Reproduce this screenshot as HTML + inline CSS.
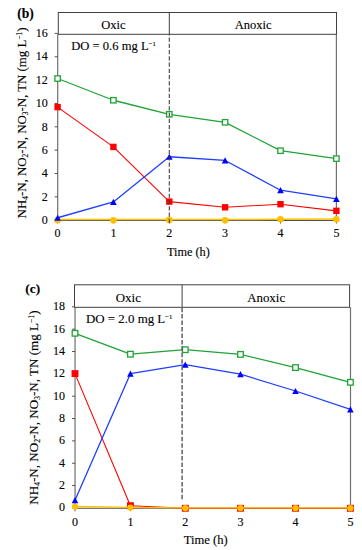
<!DOCTYPE html>
<html><head><meta charset="utf-8"><style>
html,body{margin:0;padding:0;background:#fff;width:362px;height:550px;overflow:hidden}
svg{display:block}
text{font-family:"Liberation Serif", serif;fill:#000;stroke:#000;stroke-width:0.12px}
</style></head><body>
<svg width="362" height="550" viewBox="0 0 362 550">
<path d="M57.7,34.3 V220.5 M336.4,34.3 V220.5" fill="none" stroke="#707070" stroke-width="1.2"/>
<path d="M57.7,220.5 H336.4" fill="none" stroke="#505050" stroke-width="1.1"/>
<rect x="58.3" y="12.5" width="278.2" height="21.8" fill="none" stroke="#404040" stroke-width="1.0"/>
<line x1="169.3" y1="12.5" x2="169.3" y2="34.3" stroke="#404040" stroke-width="1.0"/>
<line x1="54.7" y1="220.2" x2="57.7" y2="220.2" stroke="#505050" stroke-width="1"/>
<text x="47.8" y="223.9" text-anchor="end" font-size="12">0</text>
<line x1="54.7" y1="196.85" x2="57.7" y2="196.85" stroke="#505050" stroke-width="1"/>
<text x="47.8" y="200.55" text-anchor="end" font-size="12">2</text>
<line x1="54.7" y1="173.5" x2="57.7" y2="173.5" stroke="#505050" stroke-width="1"/>
<text x="47.8" y="177.2" text-anchor="end" font-size="12">4</text>
<line x1="54.7" y1="150.15" x2="57.7" y2="150.15" stroke="#505050" stroke-width="1"/>
<text x="47.8" y="153.85" text-anchor="end" font-size="12">6</text>
<line x1="54.7" y1="126.8" x2="57.7" y2="126.8" stroke="#505050" stroke-width="1"/>
<text x="47.8" y="130.5" text-anchor="end" font-size="12">8</text>
<line x1="54.7" y1="103.45" x2="57.7" y2="103.45" stroke="#505050" stroke-width="1"/>
<text x="47.8" y="107.15" text-anchor="end" font-size="12">10</text>
<line x1="54.7" y1="80.1" x2="57.7" y2="80.1" stroke="#505050" stroke-width="1"/>
<text x="47.8" y="83.8" text-anchor="end" font-size="12">12</text>
<line x1="54.7" y1="56.75" x2="57.7" y2="56.75" stroke="#505050" stroke-width="1"/>
<text x="47.8" y="60.45" text-anchor="end" font-size="12">14</text>
<line x1="54.7" y1="33.4" x2="57.7" y2="33.4" stroke="#505050" stroke-width="1"/>
<text x="47.8" y="37.1" text-anchor="end" font-size="12">16</text>
<line x1="57.6" y1="220.5" x2="57.6" y2="223.5" stroke="#505050" stroke-width="1"/>
<text x="57.6" y="237.4" text-anchor="middle" font-size="12">0</text>
<line x1="113.4" y1="220.5" x2="113.4" y2="223.5" stroke="#505050" stroke-width="1"/>
<text x="113.4" y="237.4" text-anchor="middle" font-size="12">1</text>
<line x1="169.3" y1="220.5" x2="169.3" y2="223.5" stroke="#505050" stroke-width="1"/>
<text x="169.3" y="237.4" text-anchor="middle" font-size="12">2</text>
<line x1="225.1" y1="220.5" x2="225.1" y2="223.5" stroke="#505050" stroke-width="1"/>
<text x="225.1" y="237.4" text-anchor="middle" font-size="12">3</text>
<line x1="280.5" y1="220.5" x2="280.5" y2="223.5" stroke="#505050" stroke-width="1"/>
<text x="280.5" y="237.4" text-anchor="middle" font-size="12">4</text>
<line x1="336.4" y1="220.5" x2="336.4" y2="223.5" stroke="#505050" stroke-width="1"/>
<text x="336.4" y="237.4" text-anchor="middle" font-size="12">5</text>
<polyline points="57.6,78.5 113.4,100.25 169.3,114.3 225.1,122.3 280.5,150.7 336.4,158.6" fill="none" stroke="#1fa336" stroke-width="1.3" stroke-linejoin="round"/>
<rect x="54.9" y="75.8" width="5.4" height="5.4" fill="#fff" stroke="#1fa336" stroke-width="1.3"/>
<rect x="110.7" y="97.55" width="5.4" height="5.4" fill="#fff" stroke="#1fa336" stroke-width="1.3"/>
<rect x="166.6" y="111.6" width="5.4" height="5.4" fill="#fff" stroke="#1fa336" stroke-width="1.3"/>
<rect x="222.4" y="119.6" width="5.4" height="5.4" fill="#fff" stroke="#1fa336" stroke-width="1.3"/>
<rect x="277.8" y="148" width="5.4" height="5.4" fill="#fff" stroke="#1fa336" stroke-width="1.3"/>
<rect x="333.7" y="155.9" width="5.4" height="5.4" fill="#fff" stroke="#1fa336" stroke-width="1.3"/>
<polyline points="57.6,107.1 113.4,146.9 169.3,201.6 225.1,207.3 280.5,204.2 336.4,210.85" fill="none" stroke="#ff0000" stroke-width="1.1" stroke-linejoin="round"/>
<rect x="54.4" y="103.9" width="6.4" height="6.4" fill="#ff0000"/>
<rect x="110.2" y="143.7" width="6.4" height="6.4" fill="#ff0000"/>
<rect x="166.1" y="198.4" width="6.4" height="6.4" fill="#ff0000"/>
<rect x="221.9" y="204.1" width="6.4" height="6.4" fill="#ff0000"/>
<rect x="277.3" y="201" width="6.4" height="6.4" fill="#ff0000"/>
<rect x="333.2" y="207.65" width="6.4" height="6.4" fill="#ff0000"/>
<polyline points="57.6,219.6 113.4,219.6 169.3,219.6 225.1,219.6 280.5,219.2 336.4,219.1" fill="none" stroke="#ffc000" stroke-width="1.5" stroke-linejoin="round"/>
<circle cx="57.6" cy="220.2" r="3.3" fill="#ffc000"/>
<circle cx="113.4" cy="220.3" r="3.3" fill="#ffc000"/>
<circle cx="169.3" cy="219.9" r="3.3" fill="#ffc000"/>
<circle cx="225.1" cy="220.3" r="3.3" fill="#ffc000"/>
<circle cx="280.5" cy="219.3" r="3.3" fill="#ffc000"/>
<circle cx="336.4" cy="219.2" r="3.3" fill="#ffc000"/>
<polyline points="57.6,217.75 113.4,201.9 169.3,156.75 225.1,160.45 280.5,190.2 336.4,198.8" fill="none" stroke="#1f3fff" stroke-width="1.3" stroke-linejoin="round"/>
<path d="M57.6,214.65 L60.9,220.85 L54.3,220.85 Z" fill="#0000ff"/>
<path d="M113.4,198.8 L116.7,205 L110.1,205 Z" fill="#0000ff"/>
<path d="M169.3,153.65 L172.6,159.85 L166,159.85 Z" fill="#0000ff"/>
<path d="M225.1,157.35 L228.4,163.55 L221.8,163.55 Z" fill="#0000ff"/>
<path d="M280.5,187.1 L283.8,193.3 L277.2,193.3 Z" fill="#0000ff"/>
<path d="M336.4,195.7 L339.7,201.9 L333.1,201.9 Z" fill="#0000ff"/>
<line x1="169.3" y1="34.3" x2="169.3" y2="224.6" stroke="#404040" stroke-width="1.1" stroke-dasharray="4.3 1.95" stroke-dashoffset="3.04"/>
<text x="17.2" y="17.8" font-size="13.6" font-weight="bold" stroke-width="0">(b)</text>
<text x="113.35" y="28.9" text-anchor="middle" font-size="12.5">Oxic</text>
<text x="253.15" y="28.9" text-anchor="middle" font-size="12.5">Anoxic</text>
<text transform="translate(71.2,49.6) scale(1,1.04)" font-size="12.6">DO = 0.6 mg L<tspan font-size="6.8" dy="-3.6">−1</tspan></text>
<text x="188.4" y="255.8" text-anchor="middle" font-size="12.3">Time (h)</text>
<text transform="translate(26.1,122.9) rotate(-90)" text-anchor="middle" font-size="12.85">NH<tspan font-size="7.5" dy="2">4</tspan><tspan dy="-2">-N, NO</tspan><tspan font-size="7.5" dy="2">2</tspan><tspan dy="-2">-N, NO</tspan><tspan font-size="7.5" dy="2">3</tspan><tspan dy="-2">-N, TN (mg L</tspan><tspan font-size="7.5" dy="-3.8">−1</tspan><tspan dy="3.8">)</tspan></text>
<path d="M75.05,307.3 V508.2 M350.5,307.3 V508.2" fill="none" stroke="#707070" stroke-width="1.2"/>
<path d="M75.05,508.2 H350.5" fill="none" stroke="#505050" stroke-width="1.1"/>
<rect x="74.5" y="284.8" width="275.1" height="22.5" fill="none" stroke="#404040" stroke-width="1.0"/>
<line x1="182.1" y1="284.8" x2="182.1" y2="307.3" stroke="#404040" stroke-width="1.0"/>
<line x1="72.05" y1="507.9" x2="75.05" y2="507.9" stroke="#505050" stroke-width="1"/>
<text x="64.9" y="511.4" text-anchor="end" font-size="12">0</text>
<line x1="72.05" y1="485.56" x2="75.05" y2="485.56" stroke="#505050" stroke-width="1"/>
<text x="64.9" y="489.06" text-anchor="end" font-size="12">2</text>
<line x1="72.05" y1="463.22" x2="75.05" y2="463.22" stroke="#505050" stroke-width="1"/>
<text x="64.9" y="466.72" text-anchor="end" font-size="12">4</text>
<line x1="72.05" y1="440.88" x2="75.05" y2="440.88" stroke="#505050" stroke-width="1"/>
<text x="64.9" y="444.38" text-anchor="end" font-size="12">6</text>
<line x1="72.05" y1="418.54" x2="75.05" y2="418.54" stroke="#505050" stroke-width="1"/>
<text x="64.9" y="422.04" text-anchor="end" font-size="12">8</text>
<line x1="72.05" y1="396.2" x2="75.05" y2="396.2" stroke="#505050" stroke-width="1"/>
<text x="64.9" y="399.7" text-anchor="end" font-size="12">10</text>
<line x1="72.05" y1="373.86" x2="75.05" y2="373.86" stroke="#505050" stroke-width="1"/>
<text x="64.9" y="377.36" text-anchor="end" font-size="12">12</text>
<line x1="72.05" y1="351.52" x2="75.05" y2="351.52" stroke="#505050" stroke-width="1"/>
<text x="64.9" y="355.02" text-anchor="end" font-size="12">14</text>
<line x1="72.05" y1="329.18" x2="75.05" y2="329.18" stroke="#505050" stroke-width="1"/>
<text x="64.9" y="332.68" text-anchor="end" font-size="12">16</text>
<line x1="72.05" y1="306.84" x2="75.05" y2="306.84" stroke="#505050" stroke-width="1"/>
<text x="64.9" y="310.34" text-anchor="end" font-size="12">18</text>
<line x1="75" y1="508.2" x2="75" y2="511.2" stroke="#505050" stroke-width="1"/>
<text x="75" y="525.9" text-anchor="middle" font-size="12">0</text>
<line x1="130.4" y1="508.2" x2="130.4" y2="511.2" stroke="#505050" stroke-width="1"/>
<text x="130.4" y="525.9" text-anchor="middle" font-size="12">1</text>
<line x1="185.3" y1="508.2" x2="185.3" y2="511.2" stroke="#505050" stroke-width="1"/>
<text x="185.3" y="525.9" text-anchor="middle" font-size="12">2</text>
<line x1="240.5" y1="508.2" x2="240.5" y2="511.2" stroke="#505050" stroke-width="1"/>
<text x="240.5" y="525.9" text-anchor="middle" font-size="12">3</text>
<line x1="295.5" y1="508.2" x2="295.5" y2="511.2" stroke="#505050" stroke-width="1"/>
<text x="295.5" y="525.9" text-anchor="middle" font-size="12">4</text>
<line x1="350.4" y1="508.2" x2="350.4" y2="511.2" stroke="#505050" stroke-width="1"/>
<text x="350.4" y="525.9" text-anchor="middle" font-size="12">5</text>
<polyline points="75,333.3 130.4,354.2 185.3,349.7 240.5,354.4 295.5,367.6 350.4,382.3" fill="none" stroke="#1fa336" stroke-width="1.3" stroke-linejoin="round"/>
<rect x="72.2" y="330.5" width="5.6" height="5.6" fill="#fff" stroke="#1fa336" stroke-width="1.3"/>
<rect x="127.6" y="351.4" width="5.6" height="5.6" fill="#fff" stroke="#1fa336" stroke-width="1.3"/>
<rect x="182.5" y="346.9" width="5.6" height="5.6" fill="#fff" stroke="#1fa336" stroke-width="1.3"/>
<rect x="237.7" y="351.6" width="5.6" height="5.6" fill="#fff" stroke="#1fa336" stroke-width="1.3"/>
<rect x="292.7" y="364.8" width="5.6" height="5.6" fill="#fff" stroke="#1fa336" stroke-width="1.3"/>
<rect x="347.6" y="379.5" width="5.6" height="5.6" fill="#fff" stroke="#1fa336" stroke-width="1.3"/>
<polyline points="75,373.6 130.4,505.7 185.3,508.3 240.5,508.3 295.5,508.3 350.4,508.3" fill="none" stroke="#ff0000" stroke-width="1.1" stroke-linejoin="round"/>
<rect x="71.55" y="370.15" width="6.9" height="6.9" fill="#ff0000"/>
<rect x="126.95" y="502.25" width="6.9" height="6.9" fill="#ff0000"/>
<rect x="181.85" y="504.85" width="6.9" height="6.9" fill="#ff0000"/>
<rect x="237.05" y="504.85" width="6.9" height="6.9" fill="#ff0000"/>
<rect x="292.05" y="504.85" width="6.9" height="6.9" fill="#ff0000"/>
<rect x="346.95" y="504.85" width="6.9" height="6.9" fill="#ff0000"/>
<polyline points="75,506.5 130.4,507.3 185.3,507.9 240.5,507.9 295.5,507.9 350.4,507.9" fill="none" stroke="#ffc000" stroke-width="1.3" stroke-linejoin="round"/>
<circle cx="75" cy="506.6" r="3.1" fill="#ffc000"/>
<circle cx="130.4" cy="507.6" r="3.1" fill="#ffc000"/>
<circle cx="185.3" cy="508.2" r="3.1" fill="#ffc000"/>
<circle cx="240.5" cy="508.2" r="3.1" fill="#ffc000"/>
<circle cx="295.5" cy="508.2" r="3.1" fill="#ffc000"/>
<circle cx="350.4" cy="508.2" r="3.1" fill="#ffc000"/>
<polyline points="75,500.15 130.4,373.7 185.3,364.6 240.5,374.2 295.5,391 350.4,409.35" fill="none" stroke="#1f3fff" stroke-width="1.3" stroke-linejoin="round"/>
<path d="M75,497.05 L78.3,503.25 L71.7,503.25 Z" fill="#0000ff"/>
<path d="M130.4,370.6 L133.7,376.8 L127.1,376.8 Z" fill="#0000ff"/>
<path d="M185.3,361.5 L188.6,367.7 L182,367.7 Z" fill="#0000ff"/>
<path d="M240.5,371.1 L243.8,377.3 L237.2,377.3 Z" fill="#0000ff"/>
<path d="M295.5,387.9 L298.8,394.1 L292.2,394.1 Z" fill="#0000ff"/>
<path d="M350.4,406.25 L353.7,412.45 L347.1,412.45 Z" fill="#0000ff"/>
<line x1="182.1" y1="307.3" x2="182.1" y2="499.3" stroke="#606060" stroke-width="1.5" stroke-dasharray="4.5 1.954" stroke-dashoffset="-6.8"/>
<text x="25.3" y="293.3" font-size="13.3" font-weight="bold" stroke-width="0">(c)</text>
<text x="128.35" y="301.5" text-anchor="middle" font-size="12.9">Oxic</text>
<text x="266.15" y="301.5" text-anchor="middle" font-size="12.9">Anoxic</text>
<text transform="translate(86,322.6) scale(1,1.03)" font-size="12.9">DO = 2.0 mg L<tspan font-size="6.8" dy="-3.6">−1</tspan></text>
<text x="205.8" y="544.3" text-anchor="middle" font-size="12.6">Time (h)</text>
<text transform="translate(37.8,407.6) rotate(-90)" text-anchor="middle" font-size="13.05">NH<tspan font-size="7.7" dy="2">4</tspan><tspan dy="-2">-N, NO</tspan><tspan font-size="7.7" dy="2">2</tspan><tspan dy="-2">-N, NO</tspan><tspan font-size="7.7" dy="2">3</tspan><tspan dy="-2">-N, TN (mg L</tspan><tspan font-size="7.7" dy="-3.8">−1</tspan><tspan dy="3.8">)</tspan></text>
</svg>
</body></html>
